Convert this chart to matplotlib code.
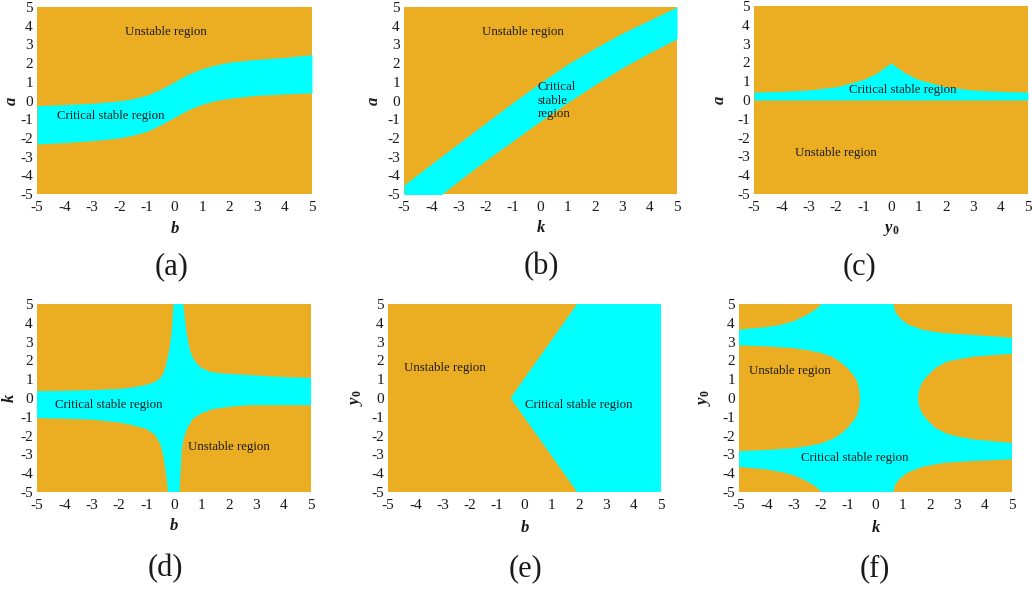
import matplotlib
matplotlib.use('Agg')
import matplotlib.pyplot as plt

plt.rcParams['font.family'] = ['Liberation Serif', 'DejaVu Serif']
plt.rcParams['mathtext.fontset'] = 'custom'
plt.rcParams['mathtext.rm'] = 'Liberation Serif:bold'
plt.rcParams['mathtext.it'] = 'Liberation Serif:bold:italic'
plt.rcParams['mathtext.bf'] = 'Liberation Serif:bold'
plt.rcParams['axes.unicode_minus'] = False

ORANGE = '#EBAE22'
CYAN = '#00FFFF'
TXT = '#1a1a1a'

ticks = [-5, -4, -3, -2, -1, 0, 1, 2, 3, 4, 5]

# (a) a vs b : stable band
a_b = [-5, -4, -3, -2, -1.5, -1, -0.5, 0, 0.5, 1, 1.5, 2, 3, 4, 5]
a_upper = [-0.27, -0.22, -0.15, -0.02, 0.1, 0.28, 0.6, 1.0, 1.4, 1.7, 1.9, 2.05, 2.2, 2.3, 2.45]
a_lower = [-2.32, -2.25, -2.15, -2.0, -1.85, -1.65, -1.3, -0.9, -0.5, -0.2, 0.0, 0.12, 0.28, 0.35, 0.41]

# (b) a vs k : stable band
b_k = [-5, -4, -3, -2, -1, 0, 1, 2, 3, 4, 5]
b_upper = [-4.52, -3.4, -2.3, -1.2, -0.1, 0.95, 1.95, 2.8, 3.6, 4.3, 5.0]
b_lower = [-6.6, -5.45, -4.3, -3.2, -2.15, -1.1, -0.1, 0.85, 1.75, 2.55, 3.3]

# (c) a vs y0 : stable band
c_y0 = [-5, -4, -3, -2, -1, -0.5, 0, 0.5, 1, 2, 3, 4, 5]
c_upper = [0.42, 0.46, 0.53, 0.7, 1.09, 1.45, 1.97, 1.45, 1.09, 0.7, 0.53, 0.46, 0.42]
c_lower = [0, 0, 0, 0, 0, 0, 0, 0, 0, 0, 0, 0, 0]

# (d) k vs b : unstable corners
d_tl_b = [-5, -4, -3, -2, -1.5, -1, -0.7, -0.5, -0.39, -0.3, -0.17, -0.08, -0.02]
d_tl_k = [0.36, 0.38, 0.42, 0.48, 0.56, 0.7, 0.85, 1.05, 1.31, 1.7, 2.55, 3.6, 5.0]
d_tr_b = [0.34, 0.4, 0.46, 0.58, 0.7, 0.83, 1.0, 1.31, 1.6, 2.05, 2.77, 3.5, 4.2, 5.0]
d_tr_k = [5.0, 4.2, 3.44, 2.55, 2.1, 1.84, 1.6, 1.4, 1.33, 1.28, 1.22, 1.15, 1.1, 1.07]
d_bl_b = [-5, -4, -3, -2, -1.5, -1, -0.7, -0.51, -0.4, -0.33, -0.26, -0.22]
d_bl_k = [-1.07, -1.1, -1.15, -1.3, -1.45, -1.65, -1.95, -2.41, -3.0, -3.65, -4.4, -5.0]
d_br_b = [0.2, 0.24, 0.28, 0.36, 0.51, 0.7, 0.99, 1.4, 2.05, 2.77, 3.5, 4.2, 5.0]
d_br_k = [-5, -4, -2.77, -2.1, -1.53, -1.1, -0.82, -0.6, -0.46, -0.38, -0.38, -0.38, -0.39]

# (e) y0 vs b : unstable wedge
e_b = [-5, 1.93, -0.51, 1.93, -5]
e_y0 = [5, 5, 0, -5, -5]

# (f) y0 vs k : unstable pieces
f_tl_k = [-5, -4, -3.5, -3, -2.52, -2.2, -1.97]
f_tl_y = [3.63, 3.77, 3.88, 4.08, 4.41, 4.7, 5.0]
f_tr_k = [0.65, 0.72, 0.9, 1.2, 1.75, 2.5, 3.58, 5.0]
f_tr_y = [5.0, 4.6, 4.24, 3.9, 3.62, 3.45, 3.35, 3.2]
f_bl_k = [-5, -4, -3.5, -3, -2.52, -2.2, -1.97]
f_bl_y = [-3.67, -3.8, -3.92, -4.1, -4.42, -4.7, -5.0]
f_br_k = [0.65, 0.72, 0.9, 1.2, 1.75, 2.5, 3.58, 5.0]
f_br_y = [-5.0, -4.6, -4.28, -3.95, -3.65, -3.45, -3.35, -3.26]
f_ml_k = [-5, -4, -3, -2.52, -2, -1.6, -1.3, -1, -0.8, -0.69, -0.6, -0.57,
          -0.6, -0.69, -0.8, -1, -1.3, -1.6, -2, -2.52, -3, -4, -5]
f_ml_y = [2.8, 2.75, 2.65, 2.55, 2.4, 2.2, 1.93, 1.55, 1.2, 0.96, 0.5, 0.0,
          -0.5, -0.96, -1.2, -1.55, -1.95, -2.2, -2.42, -2.57, -2.67, -2.77, -2.83]
f_mr_k = [5.0, 4.3, 3.58, 3.0, 2.61, 2.2, 1.87, 1.7, 1.6, 1.55,
          1.6, 1.7, 1.87, 2.2, 2.61, 3.0, 3.58, 4.3, 5.0]
f_mr_y = [2.35, 2.28, 2.2, 2.05, 1.93, 1.6, 1.13, 0.8, 0.45, 0.0,
          -0.45, -0.8, -1.13, -1.6, -1.9, -2.05, -2.2, -2.3, -2.39]


def style_axes(ax, xlabel, ylabel, xlab_y, ylab_x):
    ax.set_xlim(-5, 5)
    ax.set_ylim(-5, 5)
    ax.set_xticks(ticks)
    ax.set_yticks(ticks)
    ax.tick_params(length=0, labelsize=11, colors=TXT)
    ax.tick_params(axis='x', pad=5)
    ax.tick_params(axis='y', pad=3)
    for s in ax.spines.values():
        s.set_visible(False)
    ax.set_xlabel(xlabel, fontsize=12, fontweight='bold', style='italic', color=TXT)
    ax.set_ylabel(ylabel, fontsize=12, fontweight='bold', style='italic', color=TXT)
    ax.xaxis.set_label_coords(0.5, xlab_y)
    ax.yaxis.set_label_coords(ylab_x, 0.5)


def region_text(ax, x, y, s, **kw):
    ax.text(x, y, s, fontsize=9.3, color=TXT, ha='center', va='center', **kw)


def corner_poly(ax, xs, ys, corner, color):
    px = list(xs) + [corner[0]]
    py = list(ys) + [corner[1]]
    ax.fill(px, py, color=color, lw=0)


fig = plt.figure(figsize=(10.32, 5.89), dpi=100)
W, H = 1032, 589


def add_ax(left, top, right, bottom):
    return fig.add_axes([left / W, 1 - bottom / H, (right - left) / W, (bottom - top) / H])


# (a)
ax = add_ax(37, 7, 312, 194)
ax.set_facecolor(ORANGE)
ax.fill_between(a_b, a_lower, a_upper, color=CYAN, lw=0)
style_axes(ax, 'b', 'a', -0.144, -0.062)
region_text(ax, -0.32, 3.66, 'Unstable region')
region_text(ax, -2.32, -0.84, 'Critical stable region')

# (b)
ax = add_ax(404, 7, 677, 194)
ax.set_facecolor(ORANGE)
ax.fill_between(b_k, b_lower, b_upper, color=CYAN, lw=0)
style_axes(ax, 'k', 'a', -0.14, -0.081)
region_text(ax, -0.63, 3.64, 'Unstable region')
ax.text(-0.11, 0.0, 'Critical\nstable\nregion', fontsize=9.3, color=TXT,
        ha='left', va='center', linespacing=1.15)

# (c)
ax = add_ax(754, 6, 1028, 194)
ax.set_facecolor(ORANGE)
ax.fill_between(c_y0, c_lower, c_upper, color=CYAN, lw=0)
style_axes(ax, r'$y_{\mathit{0}}$', 'a', -0.149, -0.095)
region_text(ax, 0.44, 0.51, 'Critical stable region')
region_text(ax, -2.0, -2.83, 'Unstable region')

# (d)
ax = add_ax(37, 304, 311, 492)
ax.set_facecolor(CYAN)
corner_poly(ax, d_tl_b, d_tl_k, (-5, 5), ORANGE)
corner_poly(ax, d_tr_b, d_tr_k, (5, 5), ORANGE)
corner_poly(ax, d_bl_b, d_bl_k, (-5, -5), ORANGE)
corner_poly(ax, d_br_b, d_br_k, (5, -5), ORANGE)
style_axes(ax, 'b', 'k', -0.138, -0.069)
region_text(ax, -2.37, -0.39, 'Critical stable region')
region_text(ax, 2.0, -2.6, 'Unstable region')

# (e)
ax = add_ax(388, 304, 661, 492)
ax.set_facecolor(CYAN)
ax.fill(e_b, e_y0, color=ORANGE, lw=0)
style_axes(ax, 'b', r'$y_{\mathit{0}}$', -0.149, -0.084)
region_text(ax, -2.92, 1.62, 'Unstable region')
region_text(ax, 1.97, -0.37, 'Critical stable region')

# (f)
ax = add_ax(739, 304, 1012, 492)
ax.set_facecolor(CYAN)
corner_poly(ax, f_tl_k, f_tl_y, (-5, 5), ORANGE)
corner_poly(ax, f_tr_k, f_tr_y, (5, 5), ORANGE)
corner_poly(ax, f_bl_k, f_bl_y, (-5, -5), ORANGE)
corner_poly(ax, f_br_k, f_br_y, (5, -5), ORANGE)
ax.fill(f_ml_k, f_ml_y, color=ORANGE, lw=0)
ax.fill(f_mr_k, f_mr_y, color=ORANGE, lw=0)
style_axes(ax, 'k', r'$y_{\mathit{0}}$', -0.149, -0.095)
region_text(ax, -3.12, 1.43, 'Unstable region')
region_text(ax, -0.76, -3.17, 'Critical stable region')

# panel letters
for lab, x, y in [('(a)', 172, 267), ('(b)', 541, 267), ('(c)', 860, 267),
                  ('(d)', 165, 569), ('(e)', 526, 569), ('(f)', 875, 569)]:
    fig.text(x / W, 1 - y / H, lab, fontsize=22, ha='center', va='center', color=TXT)

fig.savefig('out.png', dpi=100)
